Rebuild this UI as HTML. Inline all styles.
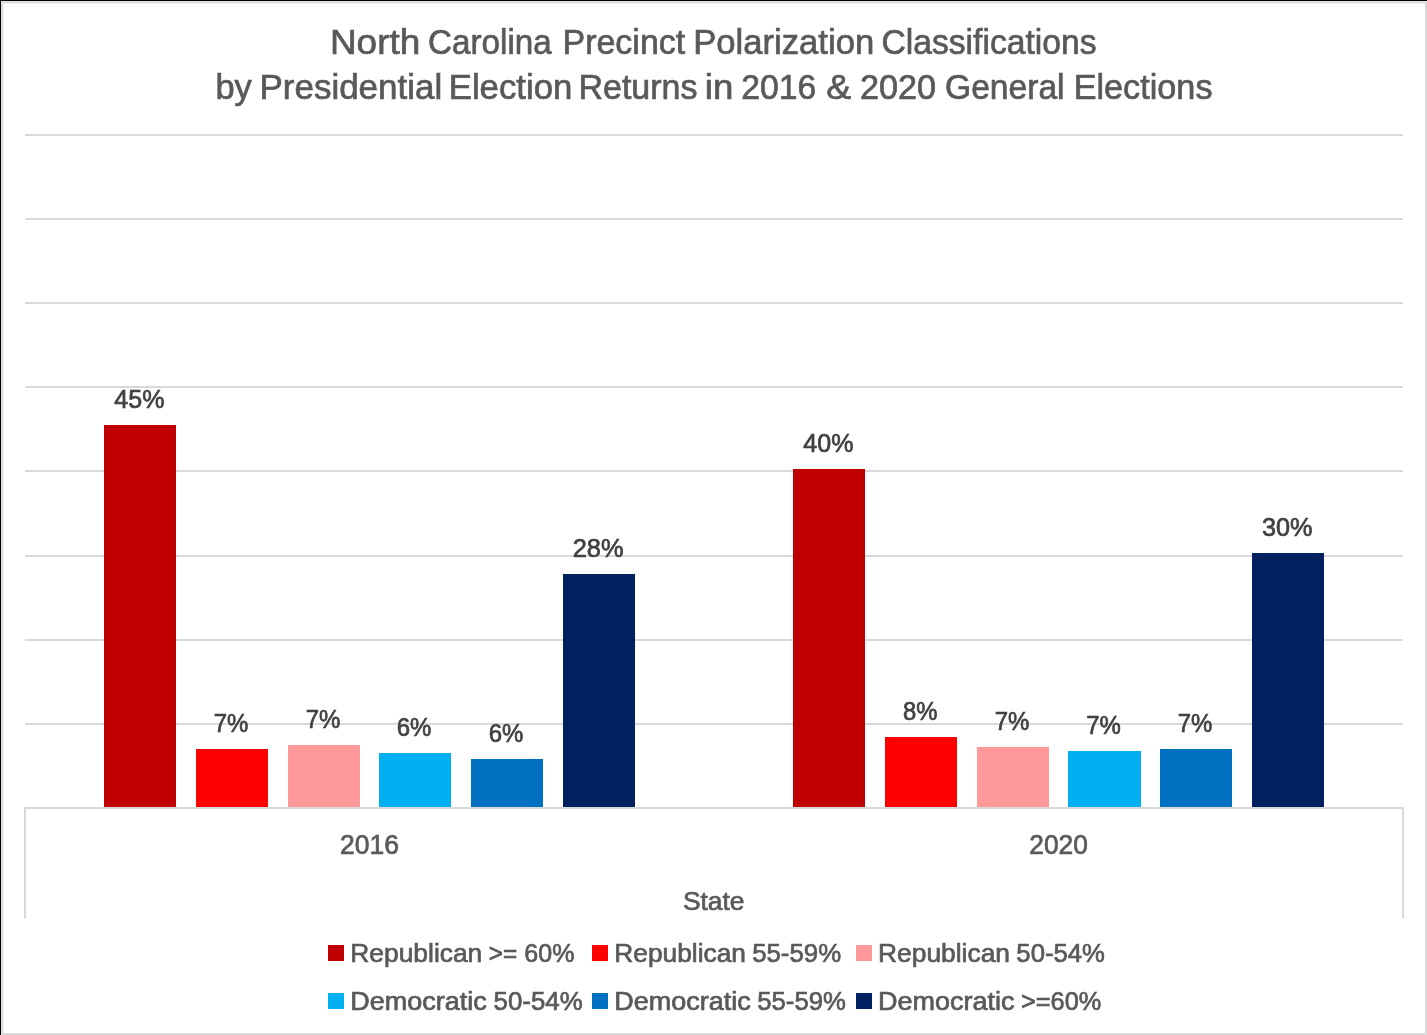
<!DOCTYPE html>
<html><head><meta charset="utf-8"><style>
html,body{margin:0;padding:0;background:#000;width:1427px;height:1035px;overflow:hidden}
#c{position:absolute;left:1px;top:1px;width:1426px;height:1034px;background:#fff}
svg{position:absolute;left:0;top:0;will-change:transform}
text{font-family:"Liberation Sans", sans-serif;stroke-width:0.7px}
</style></head><body>
<div id="c"></div>
<svg width="1427" height="1035" viewBox="0 0 1427 1035">
<rect x="1" y="1" width="1426" height="1" fill="#e6e6e6"/>
<rect x="1" y="1" width="1" height="1034" fill="#e6e6e6"/>
<rect x="2" y="2" width="1425" height="1" fill="#d9d9d9"/>
<rect x="2" y="2" width="1" height="1033" fill="#d9d9d9"/>
<rect x="3" y="3" width="1422" height="1" fill="#f2f2f2"/>
<rect x="3" y="3" width="1" height="1030" fill="#f2f2f2"/>
<rect x="1425" y="3" width="2" height="1032" fill="#d9d9d9"/>
<rect x="3" y="1033" width="1424" height="2" fill="#d9d9d9"/>
<text transform="translate(329.92,53.75) scale(1.0602,1)" font-size="34.88" fill="#595959" stroke="#595959" stroke-width="0.5">North</text>
<text transform="translate(428.06,53.75) scale(0.9521,1)" font-size="34.88" fill="#595959" stroke="#595959" stroke-width="0.5">Carolina</text>
<text transform="translate(562.46,53.75) scale(0.9748,1)" font-size="34.88" fill="#595959" stroke="#595959" stroke-width="0.5">Precinct</text>
<text transform="translate(693.21,53.75) scale(0.9935,1)" font-size="34.88" fill="#595959" stroke="#595959" stroke-width="0.5">Polarization</text>
<text transform="translate(881.44,53.75) scale(0.9654,1)" font-size="34.88" fill="#595959" stroke="#595959" stroke-width="0.5">Classifications</text>
<text transform="translate(215.43,98.75) scale(0.9876,1)" font-size="34.88" fill="#595959" stroke="#595959" stroke-width="0.5">by</text>
<text transform="translate(259.48,98.75) scale(1.0029,1)" font-size="34.88" fill="#595959" stroke="#595959" stroke-width="0.5">Presidential</text>
<text transform="translate(448.70,98.75) scale(0.9968,1)" font-size="34.88" fill="#595959" stroke="#595959" stroke-width="0.5">Election</text>
<text transform="translate(578.46,98.75) scale(0.9744,1)" font-size="34.88" fill="#595959" stroke="#595959" stroke-width="0.5">Returns</text>
<text transform="translate(704.80,98.75) scale(1.0509,1)" font-size="34.88" fill="#595959" stroke="#595959" stroke-width="0.5">in</text>
<text transform="translate(741.35,98.75) scale(0.9675,1)" font-size="34.88" fill="#595959" stroke="#595959" stroke-width="0.5">2016</text>
<text transform="translate(826.33,98.75) scale(1.0746,1)" font-size="34.88" fill="#595959" stroke="#595959" stroke-width="0.5">&amp;</text>
<text transform="translate(860.03,98.75) scale(0.9800,1)" font-size="34.88" fill="#595959" stroke="#595959" stroke-width="0.5">2020</text>
<text transform="translate(945.06,98.75) scale(0.9632,1)" font-size="34.88" fill="#595959" stroke="#595959" stroke-width="0.5">General</text>
<text transform="translate(1073.64,98.75) scale(0.9816,1)" font-size="34.88" fill="#595959" stroke="#595959" stroke-width="0.5">Elections</text>
<rect x="25" y="134" width="1378" height="2" fill="#d9d9d9"/>
<rect x="25" y="218" width="1378" height="2" fill="#d9d9d9"/>
<rect x="25" y="302" width="1378" height="2" fill="#d9d9d9"/>
<rect x="25" y="386" width="1378" height="2" fill="#d9d9d9"/>
<rect x="25" y="470" width="1378" height="2" fill="#d9d9d9"/>
<rect x="25" y="555" width="1378" height="2" fill="#d9d9d9"/>
<rect x="25" y="639" width="1378" height="2" fill="#d9d9d9"/>
<rect x="25" y="723" width="1378" height="2" fill="#d9d9d9"/>
<rect x="24" y="807" width="1380" height="2" fill="#d9d9d9"/>
<rect x="24" y="807" width="2" height="111.5" fill="#d9d9d9"/>
<rect x="1402" y="807" width="2" height="111.5" fill="#d9d9d9"/>
<rect x="104" y="425" width="72" height="382" fill="#C00000"/>
<rect x="196" y="749" width="72" height="58" fill="#FF0000"/>
<rect x="288" y="745" width="72" height="62" fill="#FF9999"/>
<rect x="379" y="753" width="72" height="54" fill="#00B0F0"/>
<rect x="471" y="759" width="72" height="48" fill="#0070C0"/>
<rect x="563" y="574" width="72" height="233" fill="#002060"/>
<rect x="793" y="469" width="72" height="338" fill="#C00000"/>
<rect x="885" y="737" width="72" height="70" fill="#FF0000"/>
<rect x="977" y="747" width="72" height="60" fill="#FF9999"/>
<rect x="1068" y="751" width="73" height="56" fill="#00B0F0"/>
<rect x="1160" y="749" width="72" height="58" fill="#0070C0"/>
<rect x="1252" y="553" width="72" height="254" fill="#002060"/>
<text transform="translate(114.37,407.75) scale(0.9475,1)" font-size="26.45" fill="#404040" stroke="#404040" stroke-width="0.7">45%</text>
<text transform="translate(213.77,731.75) scale(0.9072,1)" font-size="26.45" fill="#404040" stroke="#404040" stroke-width="0.7">7%</text>
<text transform="translate(305.77,727.75) scale(0.9072,1)" font-size="26.45" fill="#404040" stroke="#404040" stroke-width="0.7">7%</text>
<text transform="translate(396.78,735.75) scale(0.9069,1)" font-size="26.45" fill="#404040" stroke="#404040" stroke-width="0.7">6%</text>
<text transform="translate(488.78,741.75) scale(0.9069,1)" font-size="26.45" fill="#404040" stroke="#404040" stroke-width="0.7">6%</text>
<text transform="translate(572.67,556.75) scale(0.9611,1)" font-size="26.45" fill="#404040" stroke="#404040" stroke-width="0.7">28%</text>
<text transform="translate(803.37,451.75) scale(0.9475,1)" font-size="26.45" fill="#404040" stroke="#404040" stroke-width="0.7">40%</text>
<text transform="translate(902.96,719.75) scale(0.9020,1)" font-size="26.45" fill="#404040" stroke="#404040" stroke-width="0.7">8%</text>
<text transform="translate(994.77,729.75) scale(0.9072,1)" font-size="26.45" fill="#404040" stroke="#404040" stroke-width="0.7">7%</text>
<text transform="translate(1086.27,733.75) scale(0.9072,1)" font-size="26.45" fill="#404040" stroke="#404040" stroke-width="0.7">7%</text>
<text transform="translate(1177.77,731.75) scale(0.9072,1)" font-size="26.45" fill="#404040" stroke="#404040" stroke-width="0.7">7%</text>
<text transform="translate(1261.99,535.75) scale(0.9550,1)" font-size="26.45" fill="#404040" stroke="#404040" stroke-width="0.7">30%</text>
<text transform="translate(340.07,853.70) scale(0.9654,1)" font-size="27.47" fill="#595959" stroke="#595959" stroke-width="0.4">2016</text>
<text transform="translate(1029.28,853.70) scale(0.9581,1)" font-size="27.47" fill="#595959" stroke="#595959" stroke-width="0.4">2020</text>
<text transform="translate(682.90,909.80) scale(0.9913,1)" font-size="26.60" fill="#595959" stroke="#595959" stroke-width="0.4">State</text>
<rect x="328" y="945" width="16" height="16" fill="#C00000"/>
<text transform="translate(350.31,962.12) scale(1.0058,1)" font-size="26.24" fill="#595959" stroke="#595959" stroke-width="0.35">Republican</text>
<text transform="translate(488.87,962.12) scale(0.9285,1)" font-size="26.24" fill="#595959" stroke="#595959" stroke-width="0.35">&gt;=</text>
<text transform="translate(524.30,962.12) scale(0.9544,1)" font-size="26.24" fill="#595959" stroke="#595959" stroke-width="0.35">60%</text>
<rect x="592" y="945" width="16" height="16" fill="#FF0000"/>
<text transform="translate(614.32,962.12) scale(1.0026,1)" font-size="26.24" fill="#595959" stroke="#595959" stroke-width="0.35">Republican</text>
<text transform="translate(752.14,962.12) scale(0.9842,1)" font-size="26.24" fill="#595959" stroke="#595959" stroke-width="0.35">55-59%</text>
<rect x="856" y="945" width="16" height="16" fill="#FF9999"/>
<text transform="translate(878.01,962.12) scale(1.0058,1)" font-size="26.24" fill="#595959" stroke="#595959" stroke-width="0.35">Republican</text>
<text transform="translate(1016.35,962.12) scale(0.9797,1)" font-size="26.24" fill="#595959" stroke="#595959" stroke-width="0.35">50-54%</text>
<rect x="328" y="993" width="16" height="16" fill="#00B0F0"/>
<text transform="translate(350.26,1010.12) scale(1.0287,1)" font-size="26.24" fill="#595959" stroke="#595959" stroke-width="0.35">Democratic</text>
<text transform="translate(493.54,1010.12) scale(0.9854,1)" font-size="26.24" fill="#595959" stroke="#595959" stroke-width="0.35">50-54%</text>
<rect x="592" y="993" width="16" height="16" fill="#0070C0"/>
<text transform="translate(614.26,1010.12) scale(1.0287,1)" font-size="26.24" fill="#595959" stroke="#595959" stroke-width="0.35">Democratic</text>
<text transform="translate(757.24,1010.12) scale(0.9808,1)" font-size="26.24" fill="#595959" stroke="#595959" stroke-width="0.35">55-59%</text>
<rect x="856" y="993" width="16" height="16" fill="#002060"/>
<text transform="translate(877.96,1010.12) scale(1.0295,1)" font-size="26.24" fill="#595959" stroke="#595959" stroke-width="0.35">Democratic</text>
<text transform="translate(1021.03,1010.12) scale(0.9645,1)" font-size="26.24" fill="#595959" stroke="#595959" stroke-width="0.35">&gt;=60%</text>
</svg>
</body></html>
